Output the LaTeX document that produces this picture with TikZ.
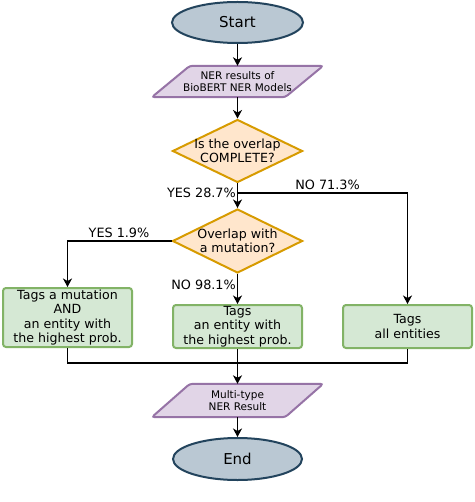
\documentclass[tikz,border=0pt]{standalone}
\usepackage{fontspec}
\setmainfont{DejaVu Sans}
\usetikzlibrary{shapes.geometric,arrows.meta,calc}
\definecolor{termfill}{HTML}{BAC8D3}
\definecolor{termline}{HTML}{23445D}
\definecolor{parafill}{HTML}{E1D5E7}
\definecolor{paraline}{HTML}{9673A6}
\definecolor{decfill}{HTML}{FFE6CC}
\definecolor{decline}{HTML}{D79B00}
\definecolor{boxfill}{HTML}{D5E8D4}
\definecolor{boxline}{HTML}{82B366}
\begin{document}
\begin{tikzpicture}[x=1pt,y=1pt,
  term/.style={ellipse, draw=termline, fill=termfill, line width=2pt, minimum width=131, minimum height=41, inner sep=0pt, font=\fontsize{15}{18}\selectfont},
  paratext/.style={rectangle, minimum width=133, minimum height=31, inner sep=0pt, align=center, font=\fontsize{10.5}{12.7}\selectfont},
  parashape/.style={draw=paraline, fill=parafill, line width=2pt, rounded corners=3pt},
  decision/.style={diamond, draw=decline, fill=decfill, line width=2pt, minimum width=130, minimum height=63, inner sep=0pt},
  dtext/.style={align=center, inner sep=0pt, font=\fontsize{12.6}{14.5}\selectfont},
  actbox/.style={rectangle, rounded corners=3pt, draw=boxline, fill=boxfill, line width=2pt, minimum width=129, inner sep=0pt, align=center, font=\fontsize{12.6}{14.5}\selectfont},
  conn/.style={line width=1.2pt, draw=black},
  arr/.style={conn, -{Stealth[length=8.5pt,width=9pt,inset=2.5pt]}},
  lbl/.style={inner sep=0pt, font=\fontsize{12.8}{15}\selectfont}
]
\useasboundingbox (0,0) rectangle (474,-502);
\fill[white] (0,0) rectangle (474,-502);

% nodes
\node[term] (start) at (237.5,-22.5) {Start};

\node[paratext] (p1) at (237.5,-81.5) {};
\draw[parashape] ($(p1.north west)+(19,0)$) -- ($(p1.north east)+(19,0)$) -- ($(p1.south east)+(-19,0)$) -- ($(p1.south west)+(-19,0)$) -- cycle;
\node[paratext] at (p1.center) {NER results of\\BioBERT NER Models};

\node[decision, label={[dtext]center:Is the overlap\\COMPLETE?}] (d1) at (237.5,-151) {};
\coordinate (j1) at (237.5,-193);
\node[decision, minimum height=64, label={[dtext]center:Overlap with\\a mutation?}] (d2) at (237.5,-241) {};

\node[actbox, minimum height=59] (b1) at (67.5,-317.5) {Tags a mutation\\AND\\an entity with\\the highest prob.};
\node[actbox, minimum height=43] (b2) at (237.5,-326.5) {Tags\\an entity with\\the highest prob.};
\node[actbox, minimum height=43] (b3) at (407.5,-326.5) {Tags\\all entities};

\coordinate (j2) at (237.5,-363);

\node[paratext, minimum height=33] (p2) at (237.5,-400.5) {};
\draw[parashape] ($(p2.north west)+(19,0)$) -- ($(p2.north east)+(19,0)$) -- ($(p2.south east)+(-19,0)$) -- ($(p2.south west)+(-19,0)$) -- cycle;
\node[paratext] at (p2.center) {Multi-type\\NER Result};

\node[term, minimum width=129, minimum height=42] (end) at (237.5,-459) {End};

% connectors
\draw[arr] (start.south) -- (p1.north);
\draw[arr] (p1.south) -- (d1.north);
\draw[conn] (d1.south) -- (j1);
\draw[arr] (j1) -- (d2.north);
\draw[arr] (j1) -| (b3.north);
\draw[arr] (d2.west) -| (b1.north);
\draw[arr] (d2.south) -- (b2.north);
\draw[conn] (b1.south) |- (j2);
\draw[conn] (b3.south) |- (j2);
\draw[conn] (b2.south) -- (j2);
\draw[arr] (j2) -- (p2.north);
\draw[arr] (p2.south) -- (end.north);

% labels
\node[lbl, anchor=east] (l1) at (236,-193) {YES 28.7\%};
\node[lbl] (l2) at (327.5,-185) {NO 71.3\%};
\node[lbl] (l3) at (119,-233) {YES 1.9\%};
\node[lbl, anchor=east] (l4) at (236,-285) {NO 98.1\%};
\end{tikzpicture}
\end{document}
